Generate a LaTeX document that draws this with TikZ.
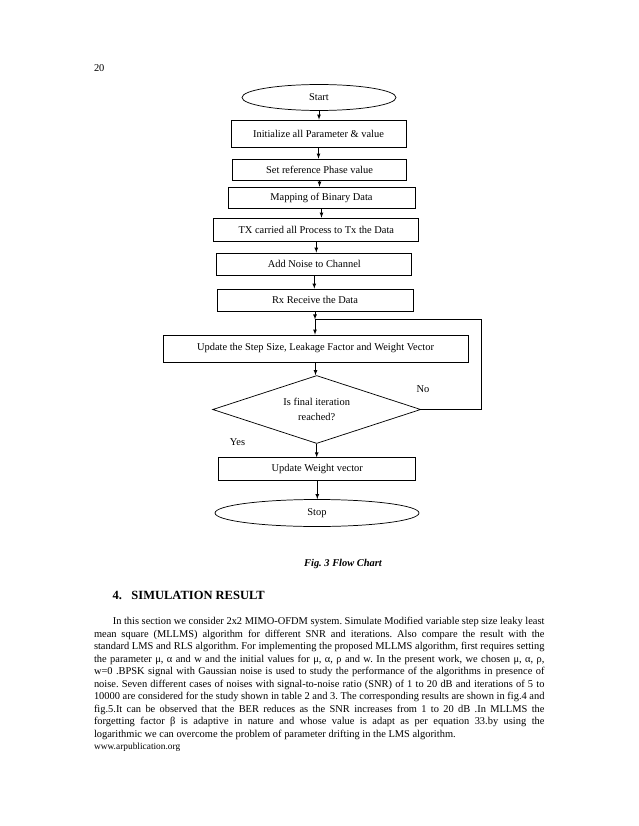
\documentclass[tikz,border=0pt]{standalone}
\usepackage{fontspec}
\setmainfont{Liberation Serif}
\usetikzlibrary{shapes.geometric,positioning,arrows}
\frenchspacing

\begin{document}
\begin{tikzpicture}[
x=0.959pt,
y=-0.959pt,
proc/.style={
  draw,
  rectangle,
  line width=0.7pt,
  inner sep=0pt
  },
term/.style={
  draw,
  ellipse,
  line width=0.7pt,
  inner sep=0pt
  },
cond/.style={
  draw,
  diamond,
  aspect=3,
  line width=0.7pt,
  inner sep=0pt,
  align=center
  },
flow/.style={
  ->,
  line width=0.7pt
  },
txt/.style={
  inner sep=0pt
  },
>=latex
]
\useasboundingbox[fill=white] (0,0) rectangle (638,826);

% flow chart
\node[term, minimum width=147.7pt, minimum height=24.9pt] (start) at (319,97.5) {Start};
\node[proc, minimum width=167.8pt, minimum height=25.9pt] (init) at (318.5,133.5) {Initialize all Parameter \& value};
\node[proc, minimum width=167.3pt, minimum height=20.1pt] (setref) at (319.5,169.5) {Set reference Phase value};
\node[proc, minimum width=179.3pt, minimum height=20.1pt] (mapping) at (321.5,197.5) {Mapping of Binary Data};
\node[proc, minimum width=196.6pt, minimum height=22pt] (tx) at (316.3,229.5) {TX carried all Process to Tx the Data};
\node[proc, minimum width=187pt, minimum height=21.1pt] (noise) at (314.3,264) {Add Noise to Channel};
\node[proc, minimum width=188pt, minimum height=21.1pt] (rx) at (315,300) {Rx Receive the Data};
\node[proc, minimum width=292.5pt, minimum height=25.9pt] (update) at (315.5,348.5) {Update the Step Size, Leakage Factor and Weight Vector};
\node[cond, minimum width=199.5pt, minimum height=65.2pt] (dia) at (316.7,409.5) {Is final iteration\\[2.5pt] reached?};
\node[proc, minimum width=189pt, minimum height=21.6pt] (weight) at (317.3,469) {Update Weight vector};
\node[term, minimum width=195.6pt, minimum height=25.9pt] (stop) at (317,513) {Stop};

\node[txt] (no) at (423,389) {No};
\node[txt] (yes) at (237.5,441.7) {Yes};

\coordinate (join) at (rx.south |- 0,319.5);
\coordinate (loop) at (481,319.5);

\foreach \a/\b in {start/init,init/setref,setref/mapping,mapping/tx,tx/noise,
  update/dia,dia/weight,weight/stop}
  \draw[flow] (\a.south) -- (\a.south |- \b.north);
\draw[flow] (noise.south) -- (noise.south |- rx.north);
\draw[flow] (rx.south) -- (join);
\draw[flow] (join) -- (join |- update.north);
\draw[line width=0.7pt] (dia.east) -| (loop) -- (join);

% page text
\node[txt, anchor=base west] (pageno) at (93.8,71.5) {20};
\node[txt, anchor=base, font=\bfseries\itshape] (caption) at (343,566.5) {Fig. 3 Flow Chart};
\node[txt, anchor=base west, font=\fontsize{12}{14}\selectfont\bfseries] (heading) at (112.5,599)
  {4.\hspace{9pt}SIMULATION RESULT};
\node[txt, anchor=base west, text width=432pt, align=justify] (para) at (93.8,624.5)
  {\hspace*{18pt}In this section we consider 2x2 MIMO-OFDM system. Simulate Modified variable step size leaky least\linebreak
  mean square (MLLMS) algorithm for different SNR and iterations. Also compare the result with the\linebreak
  standard LMS and RLS algorithm. For implementing the proposed MLLMS algorithm, first requires setting\linebreak
  the parameter μ, α and w and the initial values for μ, α, ρ and w. In the present work, we chosen μ, α, ρ,\linebreak
  w=0 .BPSK signal with Gaussian noise is used to study the performance of the algorithms in presence of\linebreak
  noise. Seven different cases of noises with signal-to-noise ratio (SNR) of 1 to 20 dB and iterations of 5 to\linebreak
  10000 are considered for the study shown in table 2 and 3. The corresponding results are shown in fig.4 and\linebreak
  fig.5.It can be observed that the BER reduces as the SNR increases from 1 to 20 dB .In MLLMS the\linebreak
  forgetting factor β is adaptive in nature and whose value is adapt as per equation 33.by using the\linebreak
  logarithmic we can overcome the problem of parameter drifting in the LMS algorithm.};
\node[txt, anchor=base west, font=\fontsize{9}{11}\selectfont] (site) at (93.8,749.5) {www.arpublication.org};
\end{tikzpicture}
\end{document}
